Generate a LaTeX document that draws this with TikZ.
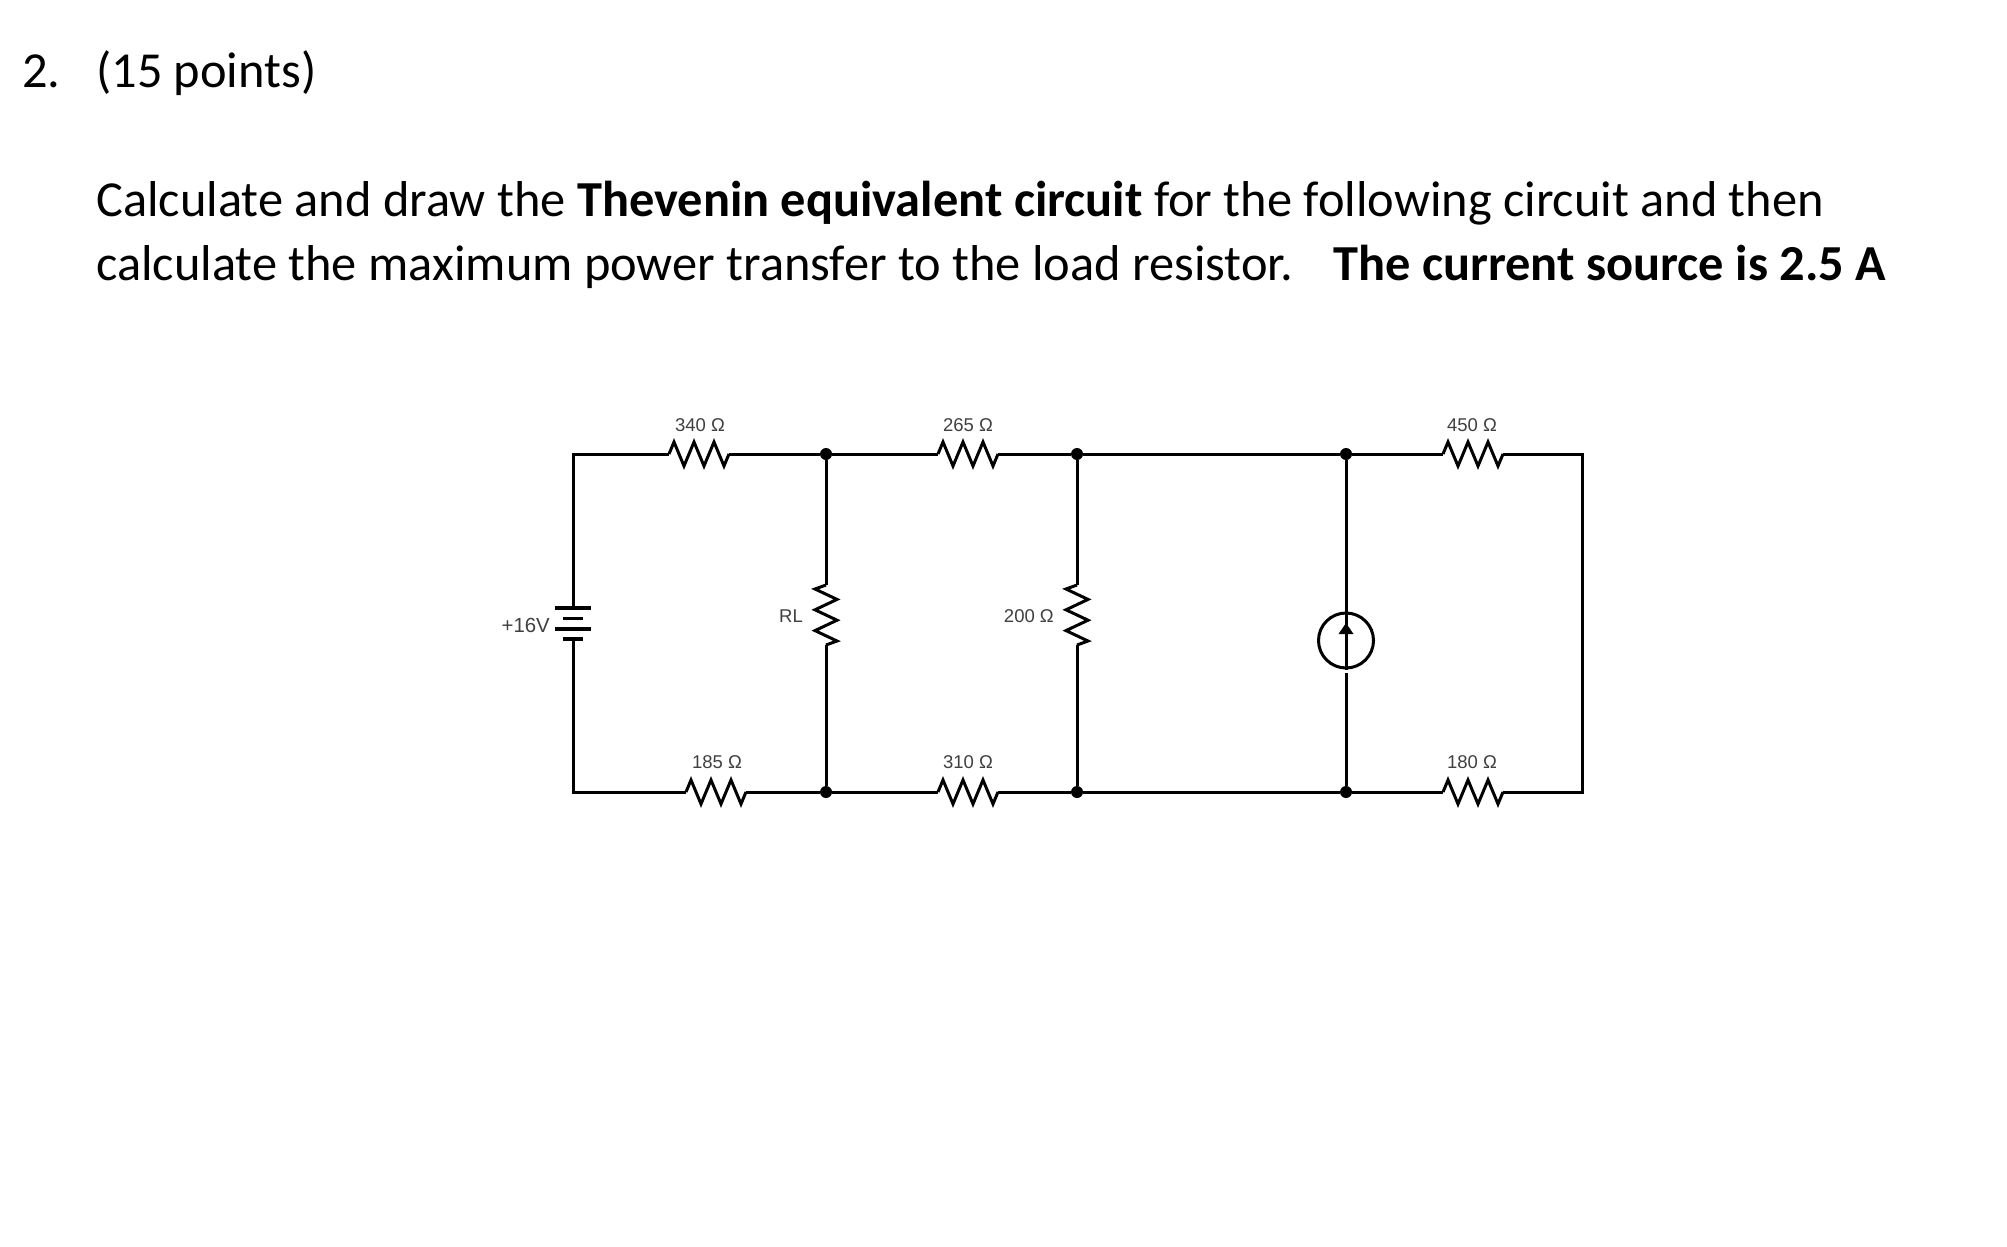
\documentclass[tikz,border=0pt]{standalone}
\usepackage{fontspec}
\setmainfont{Carlito}
\newfontfamily\lblfont{Liberation Sans}
\definecolor{lbl}{HTML}{404040}
\tikzset{
  wire/.style={line width=3pt,line join=miter,line cap=butt},
  dotnode/.style={circle,fill=black,inner sep=0pt,minimum size=12pt},
  para/.style={anchor=base west,inner sep=0pt,font=\fontsize{50.4}{50.4}\selectfont},
  lab/.style={inner sep=0pt,anchor=base,text=lbl,font=\lblfont\fontsize{18.5}{18.5}\selectfont},
  lableft/.style={lab,anchor=base east},
  plate/.style={line width=3.4pt}
}
\newcommand{\hres}[2]{\draw[wire] (#1) -- ++(5,-12) -- ++(10,24) -- ++(10,-24) -- ++(10,24) -- ++(10,-24) -- ++(10,24) -- (#2);}
\newcommand{\vres}[2]{\draw[wire] (#1) -- ++(-11,4) -- ++(22,10.4) -- ++(-22,10.4) -- ++(22,10.4) -- ++(-22,10.4) -- ++(22,10.4) -- (#2);}
\begin{document}
\begin{tikzpicture}[x=1pt,y=-1pt]
\useasboundingbox[fill=white] (0,0) rectangle (2007,1247);
% text
\node[para] (n2) at (22,87) {2.};
\node[para] (pts) at (96,87) {(15 points)};
\node[para] (l1) at (96,216.5) {Calculate and draw the \textbf{Thevenin equivalent circuit} for the following circuit and then};
\node[para] (l2) at (96,280.5) {calculate the maximum power transfer to the load resistor.\hspace{0.5em} \textbf{The current source is 2.5 A}};
% corners and junctions
\coordinate (tl) at (573,454);
\coordinate (bl) at (573,792);
\coordinate (tr) at (1582,454);
\coordinate (br) at (1582,792);
\node[dotnode] (t1) at (826,454) {};
\node[dotnode] (t2) at (1077,454) {};
\node[dotnode] (t3) at (1346,454) {};
\node[dotnode] (b1) at (826,792) {};
\node[dotnode] (b2) at (1077,792) {};
\node[dotnode] (b3) at (1346,792) {};
% resistor end points
\coordinate (r1a) at (669,454); \coordinate (r1b) at (729,454);
\coordinate (r2a) at (938,454); \coordinate (r2b) at (998,454);
\coordinate (r3a) at (1443,454); \coordinate (r3b) at (1503,454);
\coordinate (r4a) at (686,792); \coordinate (r4b) at (746,792);
\coordinate (r5a) at (938,792); \coordinate (r5b) at (998,792);
\coordinate (r6a) at (1443,792); \coordinate (r6b) at (1503,792);
\coordinate (rla) at (826,585); \coordinate (rlb) at (826,645);
\coordinate (r7a) at (1077,585); \coordinate (r7b) at (1077,645);
\hres{r1a}{r1b}\hres{r2a}{r2b}\hres{r3a}{r3b}
\hres{r4a}{r4b}\hres{r5a}{r5b}\hres{r6a}{r6b}
\vres{rla}{rlb}\vres{r7a}{r7b}
% battery
\coordinate (p1) at (573,608);
\coordinate (p2) at (573,618.5);
\coordinate (p3) at (573,629);
\coordinate (p4) at (573,639);
\draw[plate] ([xshift=-18pt]p1) -- ([xshift=18pt]p1);
\draw[plate] ([xshift=-10pt]p2) -- ([xshift=10pt]p2);
\draw[plate] ([xshift=-18pt]p3) -- ([xshift=18pt]p3);
\draw[plate] ([xshift=-10pt]p4) -- ([xshift=10pt]p4);
% current source
\node[circle,draw,line width=3pt,inner sep=0pt,minimum size=55pt] (cs) at (1346,640.5) {};
\coordinate (csin) at (1346,673);
\coordinate (arrtip) at (1346,623);
\fill (arrtip) -- ++(7.5,11) -- ++(-15,0) -- cycle;
% wires
\draw[wire] (p1) -- (tl) -- (r1a);
\draw[wire] (r1b) -- (t1) -- (r2a);
\draw[wire] (r2b) -- (t2) -- (t3) -- (r3a);
\draw[wire] (r3b) -- (tr) -- (br) -- (r6b);
\draw[wire] (p4) -- (bl) -- (r4a);
\draw[wire] (r4b) -- (b1) -- (r5a);
\draw[wire] (r5b) -- (b2) -- (b3) -- (r6a);
\draw[wire] (t1) -- (rla);
\draw[wire] (rlb) -- (b1);
\draw[wire] (t2) -- (r7a);
\draw[wire] (r7b) -- (b2);
\draw[wire] (t3) -- (cs.south);
\draw[wire] (csin) -- (b3);
% labels
\node[lab] (v1) at (700,431) {340 Ω};
\node[lab] (v2) at (968,431) {265 Ω};
\node[lab] (v3) at (1472,431) {450 Ω};
\node[lab] (v4) at (717,768) {185 Ω};
\node[lab] (v5) at (968,768) {310 Ω};
\node[lab] (v6) at (1472,768) {180 Ω};
\node[lableft] (v7) at (803,622) {RL};
\node[lableft] (v8) at (1054,622) {200 Ω};
\node[lableft,font=\lblfont\fontsize{20.4}{20.4}\selectfont] (v9) at (550,632) {+16V};
\end{tikzpicture}
\end{document}
